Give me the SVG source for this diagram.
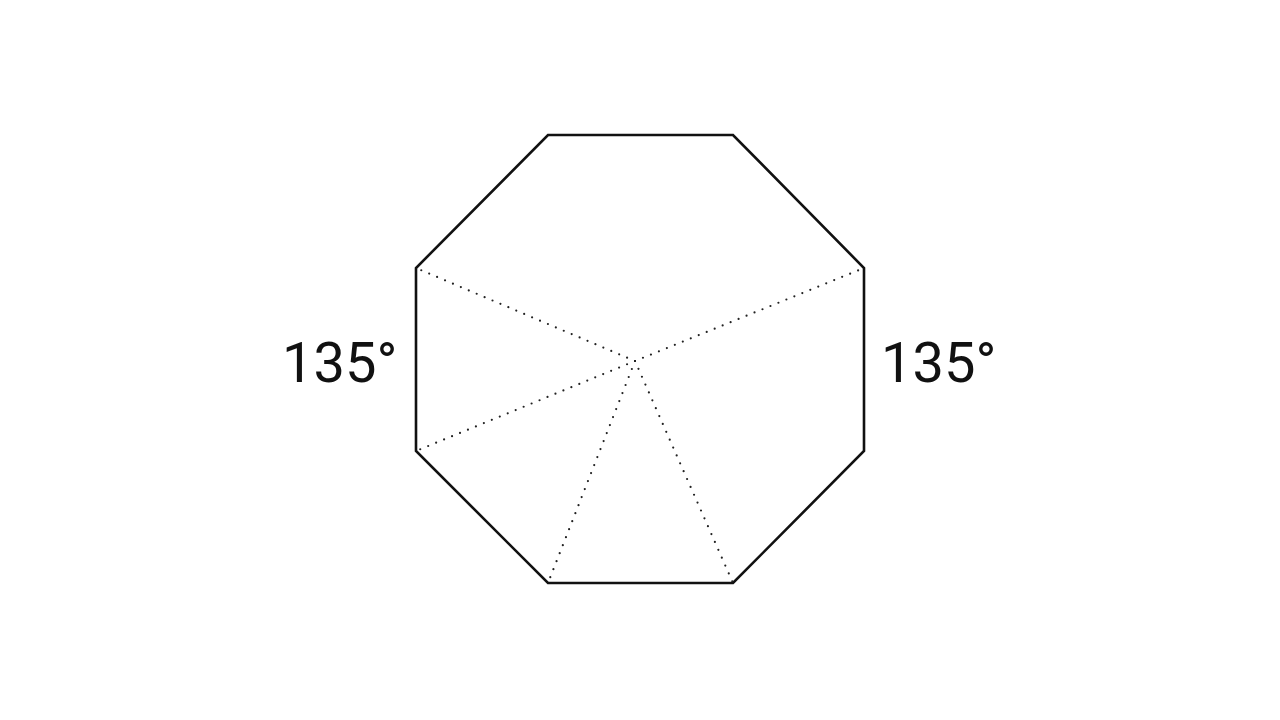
<svg xmlns="http://www.w3.org/2000/svg" width="1280" height="720" viewBox="0 0 1280 720">
<style>
.edge{fill:none;stroke:#111;stroke-width:2.6;stroke-linejoin:miter}
.dot{fill:none;stroke:#222;stroke-width:2.2;stroke-linecap:round;stroke-dasharray:0 8.6}
.lbl{font-family:Roboto,"Liberation Sans",sans-serif;font-size:56px;fill:#111}
</style>
<rect width="1280" height="720" fill="#fff"/>
<g id="octagon">
<polygon class="edge" points="548,135 733,135 864,268 864,451 733,583 548,583 416,451 416,268"/>
</g>
<g id="connectors">
<line class="dot" x1="635" y1="361" x2="416" y2="268"/>
<line class="dot" x1="635" y1="361" x2="864" y2="268"/>
<line class="dot" x1="635" y1="361" x2="416" y2="451"/>
<line class="dot" x1="635" y1="361" x2="548" y2="583"/>
<line class="dot" x1="635" y1="361" x2="733" y2="583"/>
</g>
<g id="label-left"><text class="lbl" x="282" y="382">135°</text></g>
<g id="label-right"><text class="lbl" x="881" y="382">135°</text></g>
</svg>
